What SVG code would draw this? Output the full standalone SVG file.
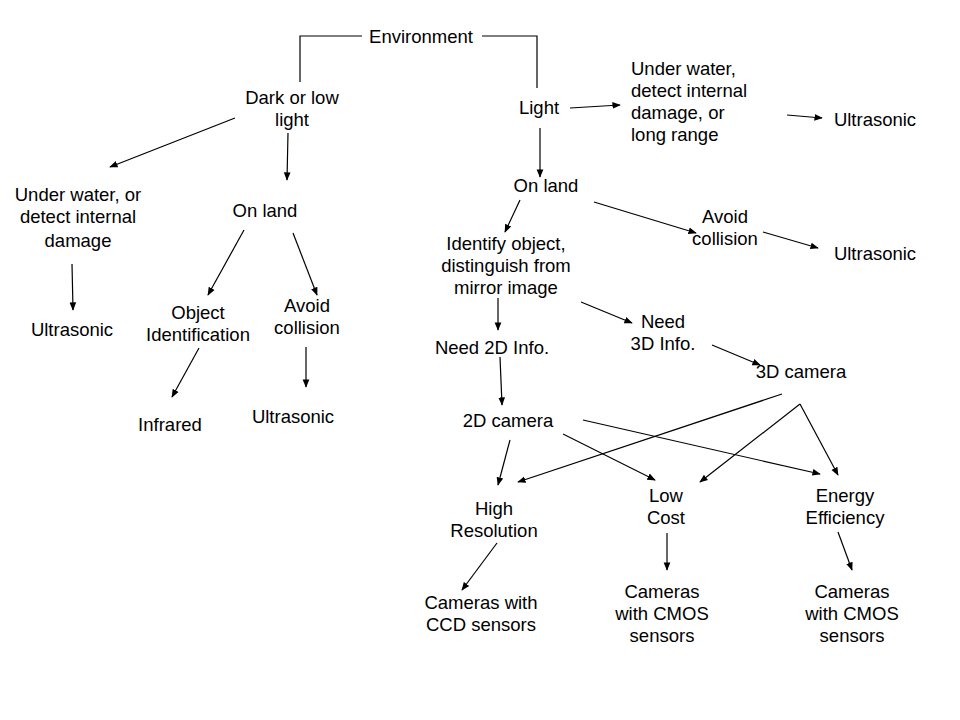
<svg xmlns="http://www.w3.org/2000/svg" width="960" height="720" viewBox="0 0 960 720">
<defs>
<marker id="a" viewBox="0 0 10 10" refX="9" refY="5" markerWidth="7" markerHeight="7" orient="auto"><path d="M0,1 L10,5 L0,9 z" fill="#000"/></marker>
<style>
text{font-family:"Liberation Sans",Arial,sans-serif;font-size:18.5px;fill:#000;text-anchor:middle}
.c line,.c polyline{stroke:#000;stroke-width:1.2;fill:none;marker-end:url(#a)}
.c .n{marker-end:none}
</style>
</defs>
<rect width="960" height="720" fill="#fff"/>
<g class="c">
<polyline class="n" points="362,36 300,36 300,82"/>
<polyline class="n" points="482,36 537,36 537,88"/>
<line x1="235" y1="118" x2="110" y2="167"/>
<line x1="288" y1="133" x2="287" y2="180"/>
<line x1="72" y1="264" x2="73" y2="310"/>
<line x1="244" y1="230" x2="208" y2="295"/>
<line x1="293" y1="233" x2="317" y2="295"/>
<line x1="199" y1="348" x2="172" y2="397"/>
<line x1="306" y1="347" x2="306" y2="387"/>
<line x1="570" y1="108" x2="620" y2="105"/>
<line x1="787" y1="115" x2="822" y2="118"/>
<line x1="540" y1="128" x2="540" y2="177"/>
<line x1="520" y1="200" x2="505" y2="232"/>
<line x1="594" y1="202" x2="696" y2="233"/>
<line x1="763" y1="232" x2="818" y2="248"/>
<line x1="498" y1="298" x2="498" y2="330"/>
<line x1="581" y1="302" x2="632" y2="323"/>
<line x1="712" y1="345" x2="760" y2="365"/>
<line x1="500" y1="357" x2="502" y2="405"/>
<line x1="510" y1="440" x2="498" y2="485"/>
<line x1="563" y1="434" x2="655" y2="480"/>
<line x1="583" y1="420" x2="820" y2="474"/>
<line x1="782" y1="394" x2="518" y2="482"/>
<line x1="800" y1="404" x2="700" y2="482"/>
<line x1="800" y1="404" x2="838" y2="475"/>
<line x1="497" y1="543" x2="462" y2="590"/>
<line x1="667" y1="533" x2="667" y2="570"/>
<line x1="838" y1="532" x2="852" y2="570"/>
</g>
<g id="env"><text x="421" y="43">Environment</text></g>
<g id="dark"><text x="292" y="104">Dark or low</text><text x="292" y="126">light</text></g>
<g id="uwl"><text x="78" y="201">Under water, or</text><text x="78" y="223">detect internal</text><text x="78" y="247">damage</text></g>
<g id="uwl-u"><text x="72" y="336">Ultrasonic</text></g>
<g id="onland1"><text x="265" y="217">On land</text></g>
<g id="objid"><text x="198" y="319">Object</text><text x="198" y="341">Identification</text></g>
<g id="avoid1"><text x="307" y="312">Avoid</text><text x="307" y="334">collision</text></g>
<g id="infrared"><text x="170" y="431">Infrared</text></g>
<g id="ultra2"><text x="293" y="423">Ultrasonic</text></g>
<g id="light"><text x="539" y="114">Light</text></g>
<g id="uwr"><text x="631" y="75" style="text-anchor:start">Under water,</text><text x="631" y="97" style="text-anchor:start">detect internal</text><text x="631" y="119" style="text-anchor:start">damage, or</text><text x="631" y="141" style="text-anchor:start">long range</text></g>
<g id="ultra3"><text x="875" y="126">Ultrasonic</text></g>
<g id="onland2"><text x="546" y="192">On land</text></g>
<g id="avoid2"><text x="725" y="223">Avoid</text><text x="725" y="245">collision</text></g>
<g id="ultra4"><text x="875" y="260">Ultrasonic</text></g>
<g id="identify"><text x="506" y="250">Identify object,</text><text x="506" y="272">distinguish from</text><text x="506" y="294">mirror image</text></g>
<g id="need2d"><text x="492" y="354">Need 2D Info.</text></g>
<g id="need3d"><text x="663" y="328">Need</text><text x="663" y="350">3D Info.</text></g>
<g id="cam3d"><text x="801" y="378">3D camera</text></g>
<g id="cam2d"><text x="508" y="427">2D camera</text></g>
<g id="hires"><text x="494" y="515">High</text><text x="494" y="537">Resolution</text></g>
<g id="lowcost"><text x="666" y="502">Low</text><text x="666" y="524">Cost</text></g>
<g id="energy"><text x="845" y="502">Energy</text><text x="845" y="524">Efficiency</text></g>
<g id="ccd"><text x="481" y="609">Cameras with</text><text x="481" y="631">CCD sensors</text></g>
<g id="cmos1"><text x="662" y="598">Cameras</text><text x="662" y="620">with CMOS</text><text x="662" y="642">sensors</text></g>
<g id="cmos2"><text x="852" y="598">Cameras</text><text x="852" y="620">with CMOS</text><text x="852" y="642">sensors</text></g>
</svg>
